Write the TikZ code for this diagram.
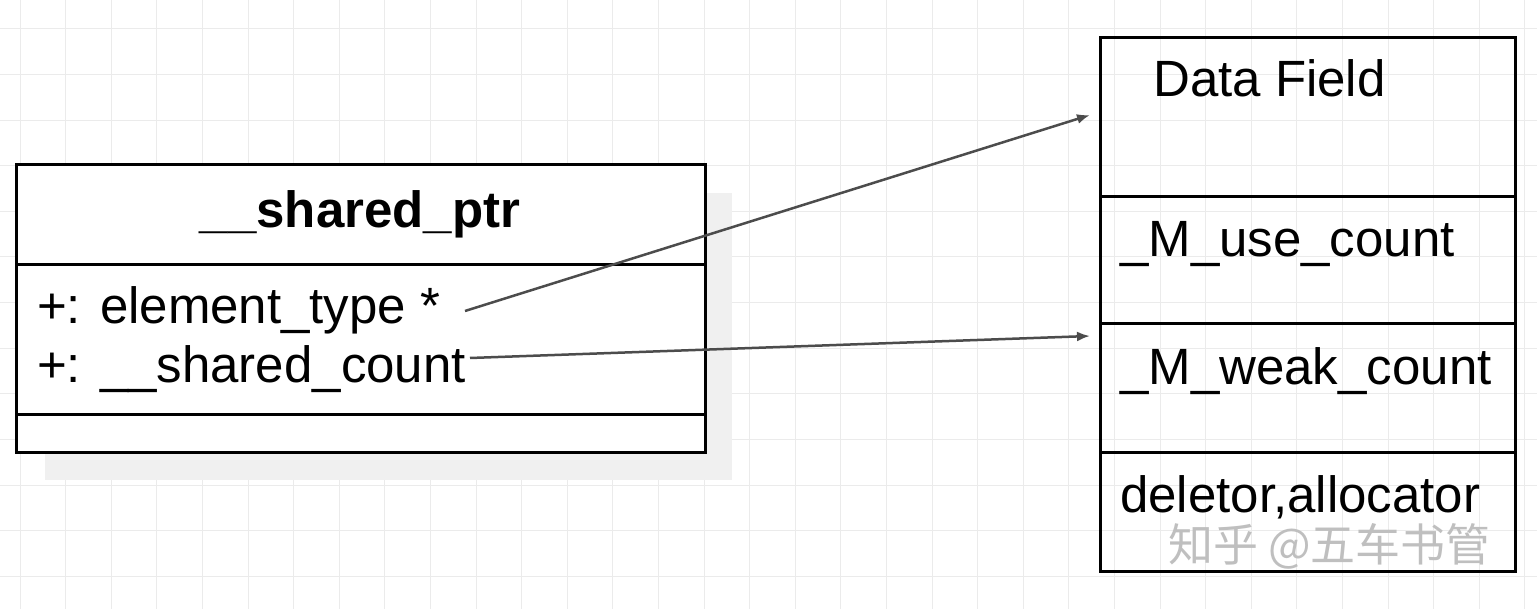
\documentclass[tikz,border=0pt]{standalone}
\usepackage{fontspec}
\setmainfont{Liberation Sans}
\newfontfamily\cjk{Noto Sans CJK SC}
\begin{document}
\begin{tikzpicture}[x=1pt,y=-1pt,
  box/.style={draw=black,line width=3pt},
  txt/.style={anchor=base west,inner sep=0pt,font=\fontsize{51}{56}\selectfont},
  conn/.style={draw=black!70,line width=2.5pt,-{Latex[length=13pt,width=10pt]}}]
\usetikzlibrary{arrows.meta}
\fill[white] (0,0) rectangle (1537,609);
\useasboundingbox (0,0) rectangle (1537,609);
\foreach \i in {0,...,34} {\draw[black!8,line width=1pt] (20+\i*45.6,0) -- (20+\i*45.6,609);}
\foreach \j in {0,...,13} {\draw[black!8,line width=1pt] (0,29+\j*45.6) -- (1537,29+\j*45.6);}
% shadow
\fill[black!6] (45,193) rectangle (732,480);
\fill[white] (16,165) rectangle (705,452);
\draw[box] (16,165) rectangle (705,452);
\draw[box] (16,265) -- (705,265);
\draw[box] (16,415) -- (705,415);
\node[inner sep=0pt,font=\fontsize{51}{56}\selectfont\bfseries] (title) at (360,214) {\_\_shared\_ptr};
\node[txt] (elem) at (37,324) {+: element\_type *};
\node[txt] (cnt) at (37,383) {+: \_\_shared\_count};
% right box
\draw[box] (1100,38) rectangle (1515,571);
\draw[box] (1100,197) -- (1515,197);
\draw[box] (1100,324) -- (1515,324);
\draw[box] (1100,452) -- (1515,452);
\node[txt] (df) at (1153,97) {Data Field};
\node[txt] (use) at (1120,257) {\_M\_use\_count};
\node[txt] (weak) at (1120,385) {\_M\_weak\_count};
\node[txt] (del) at (1120,512) {deletor,allocator};
\coordinate (t1) at (1090,115);
\coordinate (t2) at (1090,336);
\coordinate (s1) at (465,311);
\coordinate (s2) at (470,358);
\draw[conn] (s1) -- (t1);
\draw[conn] (s2) -- (t2);
\node[anchor=base west,inner sep=0pt,text=black!25,font=\cjk\fontsize{45}{48}\selectfont] (wm) at (1168,561) {知乎 @五车书管};
\end{tikzpicture}
\end{document}
